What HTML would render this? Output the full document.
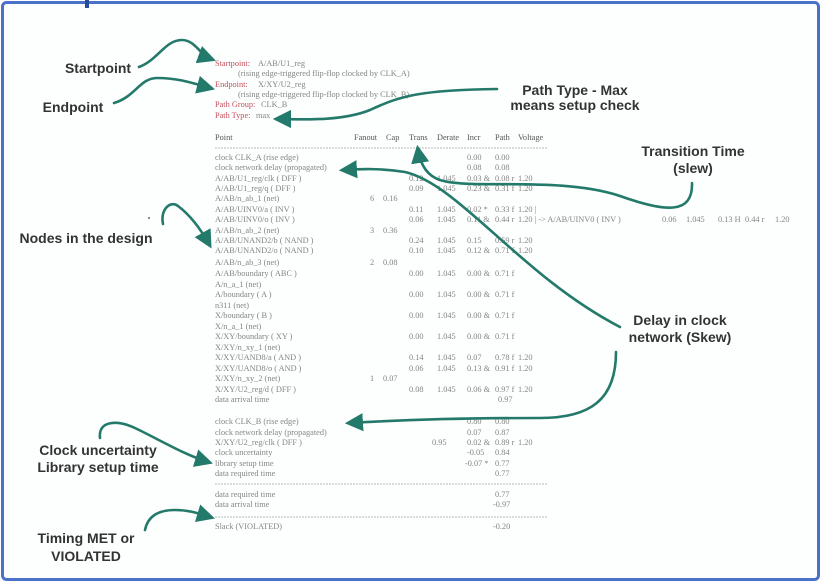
<!DOCTYPE html>
<html><head><meta charset="utf-8"><style>
html,body{margin:0;padding:0;background:#fff}
svg{display:block}
.t{font-family:"Liberation Serif",serif;font-size:8.3px;fill:#858585}
.r{font-family:"Liberation Serif",serif;font-size:8.3px;fill:#c4505c}
.h{font-family:"Liberation Serif",serif;font-size:8.3px;fill:#555}
.l{font-family:"Liberation Sans",sans-serif;font-size:14px;font-weight:bold;fill:#333}
.a{fill:none;stroke:#237a6a;stroke-width:2.6;stroke-linecap:round}
</style></head><body>
<svg width="822" height="583" viewBox="0 0 822 583" xmlns="http://www.w3.org/2000/svg">
<defs><marker id="m" markerWidth="7" markerHeight="7" refX="5" refY="3.5" orient="auto" markerUnits="strokeWidth"><path d="M0,0 L7,3.5 L0,7 z" fill="#237a6a"/></marker></defs>
<rect x="0" y="0" width="822" height="583" fill="#fff"/>
<rect x="2.5" y="2.5" width="816" height="577" rx="4" fill="#fdfefe" stroke="#4a72c8" stroke-width="3"/>
<rect x="85" y="0" width="4" height="8" fill="#2a4a9a"/>
<circle cx="149" cy="218" r="1" fill="#666"/>

<text class="r" x="215" y="66">Startpoint:</text><text class="t" x="258" y="66">A/AB/U1_reg</text>
<text class="t" x="238" y="76">(rising edge-triggered flip-flop clocked by CLK_A)</text>
<text class="r" x="215" y="87">Endpoint:</text><text class="t" x="258" y="87">X/XY/U2_reg</text>
<text class="t" x="238" y="97">(rising edge-triggered flip-flop clocked by CLK_B)</text>
<text class="r" x="215" y="107">Path Group:</text><text class="t" x="261" y="107">CLK_B</text>
<text class="r" x="215" y="118">Path Type:</text><text class="t" x="256" y="118">max</text>

<g class="h"><text x="215" y="140">Point</text><text x="354" y="140">Fanout</text><text x="386" y="140">Cap</text><text x="409" y="140">Trans</text><text x="437" y="140">Derate</text><text x="467" y="140">Incr</text><text x="495" y="140">Path</text><text x="518" y="140">Voltage</text></g>
<line x1="215" y1="148" x2="548" y2="148" stroke="#bbb" stroke-dasharray="2,1"/>

<g class="t">
<text x="215" y="160">clock CLK_A (rise edge)</text><text x="467" y="160">0.00</text><text x="495" y="160">0.00</text>
<text x="215" y="170">clock network delay (propagated)</text><text x="467" y="170">0.08</text><text x="495" y="170">0.08</text>
<text x="215" y="181">A/AB/U1_reg/clk ( DFF )</text><text x="409" y="181">0.12</text><text x="437" y="181">1.045</text><text x="467" y="181">0.03 &amp;</text><text x="495" y="181">0.08 r</text><text x="518" y="181">1.20</text>
<text x="215" y="191">A/AB/U1_reg/q   ( DFF )</text><text x="409" y="191">0.09</text><text x="437" y="191">1.045</text><text x="467" y="191">0.23 &amp;</text><text x="495" y="191">0.31 f</text><text x="518" y="191">1.20</text>
<text x="215" y="201">A/AB/n_ab_1 (net)</text><text x="370" y="201">6</text><text x="383" y="201">0.16</text>
<text x="215" y="212">A/AB/UINV0/a    ( INV )</text><text x="409" y="212">0.11</text><text x="437" y="212">1.045</text><text x="467" y="212">0.02 *</text><text x="495" y="212">0.33 f</text><text x="518" y="212">1.20  |</text>
<text x="215" y="222">A/AB/UINV0/o    ( INV )</text><text x="409" y="222">0.06</text><text x="437" y="222">1.045</text><text x="467" y="222">0.11 &amp;</text><text x="495" y="222">0.44 r</text><text x="518" y="222">1.20  |  -&gt;  A/AB/UINV0 ( INV )</text><text x="662" y="222">0.06</text><text x="686" y="222">1.045</text><text x="718" y="222">0.13 H</text><text x="745" y="222">0.44 r</text><text x="775" y="222">1.20</text>
<text x="215" y="233">A/AB/n_ab_2 (net)</text><text x="370" y="233">3</text><text x="383" y="233">0.36</text>
<text x="215" y="243">A/AB/UNAND2/b   ( NAND )</text><text x="409" y="243">0.24</text><text x="437" y="243">1.045</text><text x="467" y="243">0.15</text><text x="495" y="243">0.59 r</text><text x="518" y="243">1.20</text>
<text x="215" y="253">A/AB/UNAND2/o   ( NAND )</text><text x="409" y="253">0.10</text><text x="437" y="253">1.045</text><text x="467" y="253">0.12 &amp;</text><text x="495" y="253">0.71 f</text><text x="518" y="253">1.20</text>
<text x="215" y="265">A/AB/n_ab_3 (net)</text><text x="370" y="265">2</text><text x="383" y="265">0.08</text>
<text x="215" y="276">A/AB/boundary ( ABC )</text><text x="409" y="276">0.00</text><text x="437" y="276">1.045</text><text x="467" y="276">0.00 &amp;</text><text x="495" y="276">0.71 f</text>
<text x="215" y="287">A/n_a_1 (net)</text>
<text x="215" y="297">A/boundary ( A )</text><text x="409" y="297">0.00</text><text x="437" y="297">1.045</text><text x="467" y="297">0.00 &amp;</text><text x="495" y="297">0.71 f</text>
<text x="215" y="308">n311 (net)</text>
<text x="215" y="318">X/boundary ( B )</text><text x="409" y="318">0.00</text><text x="437" y="318">1.045</text><text x="467" y="318">0.00 &amp;</text><text x="495" y="318">0.71 f</text>
<text x="215" y="329">X/n_a_1 (net)</text>
<text x="215" y="339">X/XY/boundary ( XY )</text><text x="409" y="339">0.00</text><text x="437" y="339">1.045</text><text x="467" y="339">0.00 &amp;</text><text x="495" y="339">0.71 f</text>
<text x="215" y="350">X/XY/n_xy_1 (net)</text>
<text x="215" y="360">X/XY/UAND8/a    ( AND )</text><text x="409" y="360">0.14</text><text x="437" y="360">1.045</text><text x="467" y="360">0.07</text><text x="495" y="360">0.78 f</text><text x="518" y="360">1.20</text>
<text x="215" y="371">X/XY/UAND8/o    ( AND )</text><text x="409" y="371">0.06</text><text x="437" y="371">1.045</text><text x="467" y="371">0.13 &amp;</text><text x="495" y="371">0.91 f</text><text x="518" y="371">1.20</text>
<text x="215" y="381">X/XY/n_xy_2 (net)</text><text x="370" y="381">1</text><text x="383" y="381">0.07</text>
<text x="215" y="392">X/XY/U2_reg/d   ( DFF )</text><text x="409" y="392">0.08</text><text x="437" y="392">1.045</text><text x="467" y="392">0.06 &amp;</text><text x="495" y="392">0.97 f</text><text x="518" y="392">1.20</text>
<text x="215" y="402">data arrival time</text><text x="498" y="402">0.97</text>
<text x="215" y="424">clock CLK_B (rise edge)</text><text x="467" y="424">0.80</text><text x="495" y="424">0.80</text>
<text x="215" y="435">clock network delay (propagated)</text><text x="467" y="435">0.07</text><text x="495" y="435">0.87</text>
<text x="215" y="445">X/XY/U2_reg/clk ( DFF )</text><text x="432" y="445">0.95</text><text x="467" y="445">0.02 &amp;</text><text x="495" y="445">0.89 r</text><text x="518" y="445">1.20</text>
<text x="215" y="455">clock uncertainty</text><text x="467" y="455">-0.05</text><text x="495" y="455">0.84</text>
<text x="215" y="466">library setup time</text><text x="465" y="466">-0.07 *</text><text x="495" y="466">0.77</text>
<text x="215" y="476">data required time</text><text x="495" y="476">0.77</text>
<text x="215" y="497">data required time</text><text x="495" y="497">0.77</text>
<text x="215" y="507">data arrival time</text><text x="493" y="507">-0.97</text>
<text x="215" y="529">Slack (VIOLATED)</text><text x="493" y="529">-0.20</text>
</g>
<line x1="215" y1="484" x2="548" y2="484" stroke="#bbb" stroke-dasharray="2,1"/>
<line x1="215" y1="517" x2="548" y2="517" stroke="#bbb" stroke-dasharray="2,1"/>

<text class="l" x="98" y="73" text-anchor="middle">Startpoint</text>
<text class="l" x="73" y="112" text-anchor="middle">Endpoint</text>
<text class="l" x="575" y="95" text-anchor="middle">Path Type - Max</text>
<text class="l" x="575" y="110" text-anchor="middle">means setup check</text>
<text class="l" x="693" y="156" text-anchor="middle">Transition Time</text>
<text class="l" x="693" y="173" text-anchor="middle">(slew)</text>
<text class="l" x="86" y="243" text-anchor="middle">Nodes in the design</text>
<text class="l" x="680" y="325" text-anchor="middle">Delay in clock</text>
<text class="l" x="680" y="342" text-anchor="middle">network (Skew)</text>
<text class="l" x="98" y="455" text-anchor="middle">Clock uncertainty</text>
<text class="l" x="98" y="472" text-anchor="middle">Library setup time</text>
<text class="l" x="86" y="543" text-anchor="middle">Timing MET or</text>
<text class="l" x="86" y="561" text-anchor="middle">VIOLATED</text>

<path class="a" marker-end="url(#m)" d="M139,67 C158,60 165,40 182,40 C195,40 200,55 211,59"/>
<path class="a" marker-end="url(#m)" d="M114,103 C135,97 140,78 157,78 C180,78 195,84 210,88"/>
<path class="a" marker-end="url(#m)" d="M497,89 C420,90 400,96 370,110 C340,122 300,119 278,119"/>
<path class="a" marker-end="url(#m)" d="M692,183 C693,215 665,212 620,196 C560,176 470,190 440,180 C425,175 420,162 418,150"/>
<path class="a" marker-end="url(#m)" d="M620,327 C520,275 460,185 405,172 C380,168 360,169 344,170"/>
<path class="a" marker-end="url(#m)" d="M616,352 C616,400 590,418 540,418 C460,418 400,420 350,423"/>
<path class="a" d="M163,224 C160,210 170,200 178,206"/>
<path class="a" marker-end="url(#m)" d="M178,206 C190,215 200,228 209,244"/>
<path class="a" marker-end="url(#m)" d="M100,438 C98,420 118,420 135,428 C160,440 185,455 208,462"/>
<path class="a" marker-end="url(#m)" d="M145,530 C148,515 160,510 175,510 C190,510 200,514 210,517"/>
</svg>
</body></html>
